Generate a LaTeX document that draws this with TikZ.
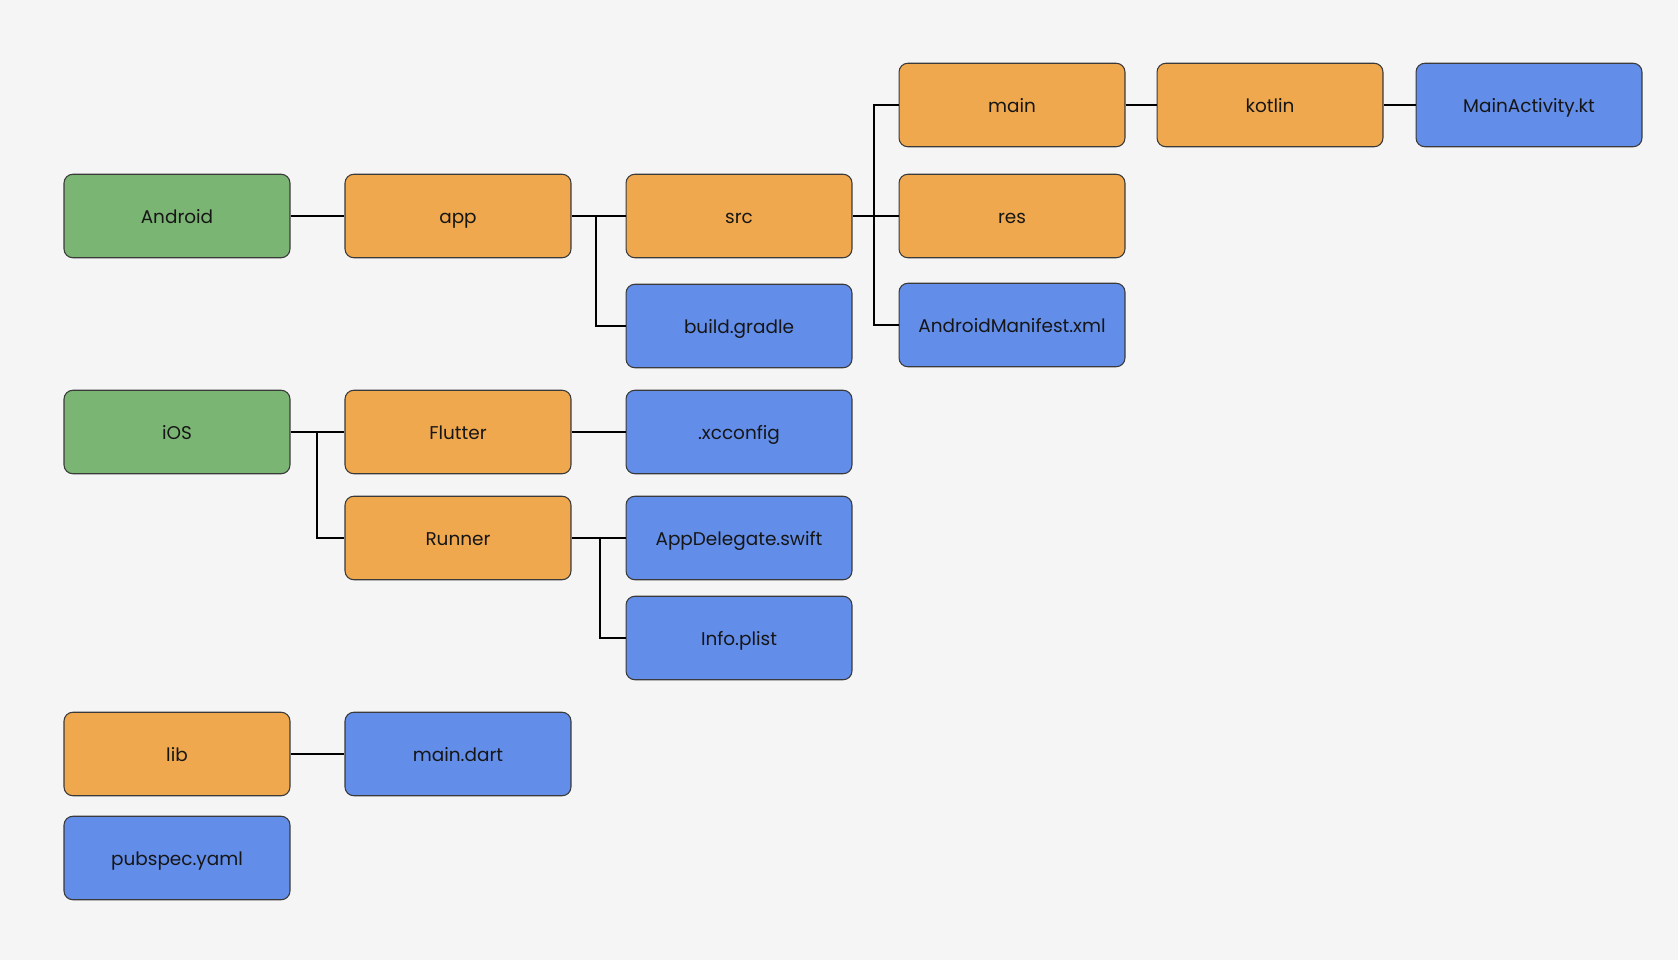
\documentclass[tikz,border=0pt]{standalone}
\usepackage{fontspec}
\setmainfont{Poppins}
\definecolor{bgpage}{HTML}{F5F5F5}
\definecolor{dirgreen}{HTML}{7BB574}
\definecolor{dirorange}{HTML}{F0A84E}
\definecolor{fileblue}{HTML}{628DE9}
\definecolor{boxline}{HTML}{3A3A3A}
\definecolor{boxtext}{HTML}{161616}

\tikzset{
  box/.style={draw=boxline, line width=0.6pt, rounded corners=5pt,
    minimum width=4.52cm, minimum height=1.67cm, inner sep=0pt,
    text height=2ex, text depth=0.35ex,
    font=\fontsize{10.5}{12}\selectfont, text=boxtext},
  platform/.style={box, fill=dirgreen},
  folder/.style={box, fill=dirorange},
  file/.style={box, fill=fileblue},
  link/.style={line width=0.9pt, black}
}

\begin{document}
\begin{tikzpicture}[x=0.02cm, y=-0.02cm]
  \useasboundingbox[fill=bgpage] (0,0) rectangle (1678,960);
  % android part
  \node[platform] (android) at (177,216) {Android};
  \node[folder] (app) at (458,216) {app};
  \node[folder] (src) at (739,216) {src};
  \node[file] (gradle) at (739,326) {build.gradle};
  \node[folder] (main) at (1012,105) {main};
  \node[folder] (res) at (1012,216) {res};
  \node[file] (manifest) at (1012,325) {AndroidManifest.xml};
  \node[folder] (kotlin) at (1270,105) {kotlin};
  \node[file] (activity) at (1529,105) {MainActivity.kt};
  % ios part
  \node[platform] (ios) at (177,432) {iOS};
  \node[folder] (flutter) at (458,432) {Flutter};
  \node[file] (xcconfig) at (739,432) {.xcconfig};
  \node[folder] (runner) at (458,538) {Runner};
  \node[file] (delegate) at (739,538) {AppDelegate.swift};
  \node[file] (plist) at (739,638) {Info.plist};
  % lib and pubspec
  \node[folder] (lib) at (177,754) {lib};
  \node[file] (maindart) at (458,754) {main.dart};
  \node[file] (pubspec) at (177,858) {pubspec.yaml};

  % forks
  \coordinate (appfork) at (596,216);
  \coordinate (srcfork) at (874,216);
  \coordinate (iosfork) at (317,432);
  \coordinate (runnerfork) at (600,538);

  \draw[link] (android) -- (app);
  \draw[link] (app) -- (src);
  \draw[link] (appfork) |- (gradle.west);
  \draw[link] (src) -- (res);
  \draw[link] (srcfork) |- (main.west);
  \draw[link] (srcfork) |- (manifest.west);
  \draw[link] (main) -- (kotlin);
  \draw[link] (kotlin) -- (activity);
  \draw[link] (ios) -- (flutter);
  \draw[link] (iosfork) |- (runner.west);
  \draw[link] (flutter) -- (xcconfig);
  \draw[link] (runner) -- (delegate);
  \draw[link] (runnerfork) |- (plist.west);
  \draw[link] (lib) -- (maindart);
\end{tikzpicture}
\end{document}
